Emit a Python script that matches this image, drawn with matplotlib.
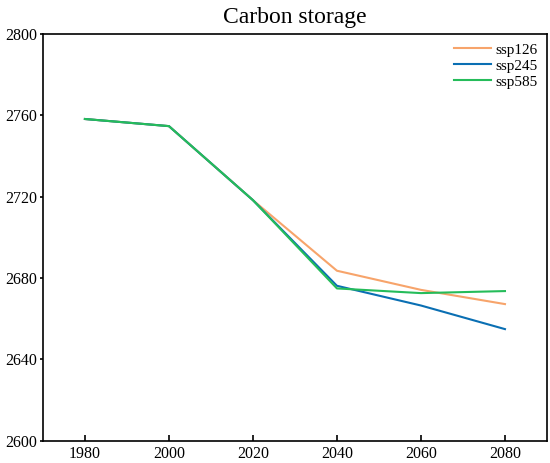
import matplotlib
matplotlib.use("Agg")
import matplotlib.pyplot as plt

plt.rcParams['font.family'] = ['Liberation Serif', 'DejaVu Serif']

years = [1980, 2000, 2020, 2040, 2060, 2080]
ssp126 = [2758.2, 2754.7, 2718.3, 2683.6, 2674.2, 2667.2]
ssp245 = [2758.2, 2754.7, 2718.3, 2676.2, 2666.5, 2654.9]
ssp585 = [2758.2, 2754.7, 2718.3, 2674.9, 2672.6, 2673.6]
series_names = ['ssp126', 'ssp245', 'ssp585']
colors = ['#F7A46B', '#0A6FB3', '#25BC5A']
xticks = [1980, 2000, 2020, 2040, 2060, 2080]
yticks = [2600, 2640, 2680, 2720, 2760, 2800]

fig = plt.figure(figsize=(5.5, 4.63), dpi=100)
ax = fig.add_axes([0.078, 0.048, 0.9165, 0.8786])

for vals, name, c in zip([ssp126, ssp245, ssp585], series_names, colors):
    ax.plot(years, vals, color=c, lw=1.5, label=name)

ax.set_xlim(1970, 2090)
ax.set_ylim(2600, 2800)
ax.set_xticks(xticks)
ax.set_yticks(yticks)
ax.tick_params(axis='x', direction='in', labelsize=11.5, length=4, width=1.2, pad=4)
ax.tick_params(axis='y', direction='out', labelsize=11.5, length=2.5, width=1.2, pad=1.5)
for s in ax.spines.values():
    s.set_linewidth(1.2)
ax.set_title('Carbon storage', fontsize=17, pad=8)
ax.legend(loc='upper right', frameon=False, fontsize=11, handlelength=2.4,
          labelspacing=0.15, borderaxespad=0.2, handletextpad=0.3)

fig.savefig('out.png', dpi=100)
